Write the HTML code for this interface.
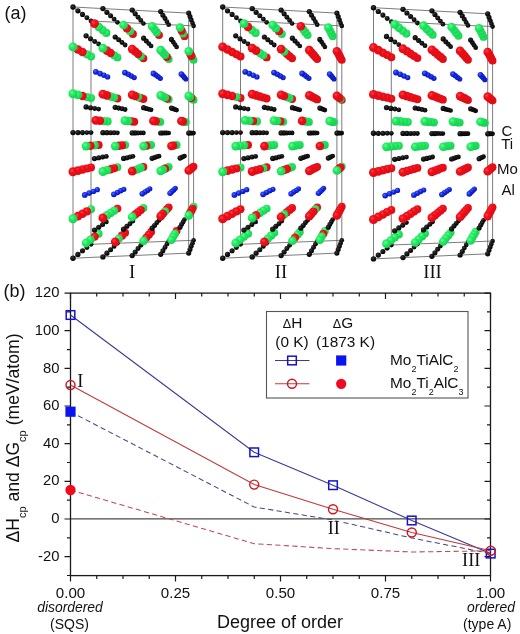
<!DOCTYPE html>
<html><head><meta charset="utf-8"><title>Figure</title>
<style>html,body{margin:0;padding:0;background:#fff}svg{display:block;font-family:"Liberation Sans",sans-serif}</style>
</head><body>
<svg width="520" height="634" viewBox="0 0 520 634">
<defs>
<radialGradient id="gR" cx="0.38" cy="0.36" r="0.7"><stop offset="0" stop-color="#ff4448"/><stop offset="0.35" stop-color="#f2121c"/><stop offset="1" stop-color="#d80812"/></radialGradient>
<radialGradient id="gG" cx="0.38" cy="0.36" r="0.7"><stop offset="0" stop-color="#6cff94"/><stop offset="0.35" stop-color="#26ee64"/><stop offset="1" stop-color="#16cc50"/></radialGradient>
<radialGradient id="gC" cx="0.38" cy="0.36" r="0.7"><stop offset="0" stop-color="#3a3a3a"/><stop offset="0.5" stop-color="#111"/><stop offset="1" stop-color="#000"/></radialGradient>
<radialGradient id="gL" cx="0.38" cy="0.36" r="0.7"><stop offset="0" stop-color="#4a6aff"/><stop offset="0.5" stop-color="#1428e8"/><stop offset="1" stop-color="#0410a0"/></radialGradient>
<filter id="soft" x="0" y="0" width="520" height="290" filterUnits="userSpaceOnUse"><feGaussianBlur stdDeviation="0.55"/></filter>
</defs>
<rect width="520" height="634" fill="#fff"/>
<g id="structs"><g stroke="#5a5a5a" stroke-width="0.8" fill="none"><line x1="73.0" y1="7.0" x2="188.7" y2="13.1"/><line x1="73.0" y1="258.2" x2="188.7" y2="253.1"/><line x1="73.0" y1="7.0" x2="73.0" y2="258.2"/><line x1="188.7" y1="13.1" x2="188.7" y2="253.1"/><line x1="91.0" y1="21.0" x2="193.6" y2="25.9"/><line x1="91.0" y1="244.3" x2="193.6" y2="240.3"/><line x1="91.0" y1="21.0" x2="91.0" y2="244.3"/><line x1="193.6" y1="25.9" x2="193.6" y2="240.3"/><line x1="73.0" y1="7.0" x2="91.0" y2="21.0"/><line x1="188.7" y1="13.1" x2="193.6" y2="25.9"/><line x1="73.0" y1="258.2" x2="91.0" y2="244.3"/><line x1="188.7" y1="253.1" x2="193.6" y2="240.3"/></g><g filter="url(#soft)"><circle cx="193.6" cy="25.9" r="2.30" fill="url(#gC)"/><circle cx="193.6" cy="60.0" r="3.84" fill="url(#gG)"/><circle cx="193.6" cy="99.9" r="3.84" fill="url(#gG)"/><circle cx="193.6" cy="133.1" r="2.30" fill="url(#gC)"/><circle cx="193.6" cy="166.5" r="3.84" fill="url(#gR)"/><circle cx="193.6" cy="206.6" r="3.84" fill="url(#gG)"/><circle cx="193.6" cy="240.3" r="2.30" fill="url(#gC)"/><circle cx="168.7" cy="24.7" r="2.33" fill="url(#gC)"/><circle cx="168.7" cy="59.1" r="3.88" fill="url(#gG)"/><circle cx="168.7" cy="99.4" r="3.88" fill="url(#gG)"/><circle cx="168.7" cy="133.0" r="2.33" fill="url(#gC)"/><circle cx="168.7" cy="166.8" r="3.88" fill="url(#gG)"/><circle cx="168.7" cy="207.3" r="3.88" fill="url(#gR)"/><circle cx="168.7" cy="241.3" r="2.33" fill="url(#gC)"/><circle cx="176.6" cy="47.0" r="2.34" fill="url(#gC)"/><circle cx="176.6" cy="110.1" r="2.34" fill="url(#gC)"/><circle cx="176.6" cy="145.0" r="3.90" fill="url(#gG)"/><circle cx="175.3" cy="188.3" r="2.56" fill="url(#gL)"/><circle cx="176.6" cy="231.0" r="3.90" fill="url(#gR)"/><circle cx="143.4" cy="23.5" r="2.35" fill="url(#gC)"/><circle cx="143.4" cy="58.3" r="3.92" fill="url(#gR)"/><circle cx="143.4" cy="99.0" r="3.92" fill="url(#gR)"/><circle cx="143.4" cy="132.9" r="2.35" fill="url(#gC)"/><circle cx="143.4" cy="167.0" r="3.92" fill="url(#gR)"/><circle cx="143.4" cy="207.9" r="3.92" fill="url(#gG)"/><circle cx="143.4" cy="242.2" r="2.35" fill="url(#gC)"/><circle cx="184.5" cy="36.2" r="3.92" fill="url(#gR)"/><circle cx="185.8" cy="79.0" r="2.57" fill="url(#gL)"/><circle cx="185.8" cy="122.1" r="3.92" fill="url(#gG)"/><circle cx="184.5" cy="156.0" r="2.35" fill="url(#gC)"/><circle cx="184.5" cy="219.6" r="2.35" fill="url(#gC)"/><circle cx="151.1" cy="46.0" r="2.36" fill="url(#gC)"/><circle cx="151.1" cy="109.8" r="2.36" fill="url(#gC)"/><circle cx="151.1" cy="145.0" r="3.94" fill="url(#gG)"/><circle cx="149.8" cy="188.8" r="2.58" fill="url(#gL)"/><circle cx="151.1" cy="231.9" r="3.94" fill="url(#gR)"/><circle cx="192.5" cy="23.0" r="2.37" fill="url(#gC)"/><circle cx="192.5" cy="58.0" r="3.95" fill="url(#gG)"/><circle cx="192.5" cy="98.9" r="3.95" fill="url(#gG)"/><circle cx="192.5" cy="133.1" r="2.37" fill="url(#gC)"/><circle cx="192.5" cy="167.4" r="3.95" fill="url(#gR)"/><circle cx="192.5" cy="208.6" r="3.95" fill="url(#gR)"/><circle cx="192.5" cy="243.2" r="2.37" fill="url(#gC)"/><circle cx="117.4" cy="22.3" r="2.38" fill="url(#gC)"/><circle cx="117.4" cy="57.4" r="3.96" fill="url(#gG)"/><circle cx="117.4" cy="98.5" r="3.96" fill="url(#gR)"/><circle cx="117.4" cy="132.8" r="2.38" fill="url(#gC)"/><circle cx="117.4" cy="167.2" r="3.96" fill="url(#gG)"/><circle cx="117.4" cy="208.6" r="3.96" fill="url(#gR)"/><circle cx="117.4" cy="243.3" r="2.38" fill="url(#gC)"/><circle cx="159.0" cy="35.1" r="3.96" fill="url(#gR)"/><circle cx="160.3" cy="78.3" r="2.60" fill="url(#gL)"/><circle cx="160.3" cy="121.9" r="3.96" fill="url(#gG)"/><circle cx="159.0" cy="156.2" r="2.38" fill="url(#gC)"/><circle cx="159.0" cy="220.3" r="2.38" fill="url(#gC)"/><circle cx="125.1" cy="45.0" r="2.39" fill="url(#gC)"/><circle cx="125.1" cy="109.5" r="2.39" fill="url(#gC)"/><circle cx="125.1" cy="145.0" r="3.98" fill="url(#gG)"/><circle cx="123.8" cy="189.3" r="2.61" fill="url(#gL)"/><circle cx="125.1" cy="232.8" r="3.98" fill="url(#gR)"/><circle cx="166.9" cy="21.7" r="2.39" fill="url(#gC)"/><circle cx="166.9" cy="57.1" r="3.99" fill="url(#gR)"/><circle cx="166.9" cy="98.5" r="3.99" fill="url(#gR)"/><circle cx="166.9" cy="133.0" r="2.39" fill="url(#gC)"/><circle cx="166.9" cy="167.7" r="3.99" fill="url(#gG)"/><circle cx="166.9" cy="209.3" r="3.99" fill="url(#gR)"/><circle cx="166.9" cy="244.2" r="2.39" fill="url(#gC)"/><circle cx="91.0" cy="21.0" r="2.40" fill="url(#gC)"/><circle cx="91.0" cy="56.5" r="4.00" fill="url(#gG)"/><circle cx="91.0" cy="98.0" r="4.00" fill="url(#gG)"/><circle cx="91.0" cy="132.6" r="2.40" fill="url(#gC)"/><circle cx="91.0" cy="167.5" r="4.00" fill="url(#gR)"/><circle cx="91.0" cy="209.2" r="4.00" fill="url(#gG)"/><circle cx="91.0" cy="244.3" r="2.40" fill="url(#gC)"/><circle cx="132.9" cy="34.0" r="4.00" fill="url(#gR)"/><circle cx="134.2" cy="77.6" r="2.63" fill="url(#gL)"/><circle cx="134.2" cy="121.7" r="4.00" fill="url(#gR)"/><circle cx="132.9" cy="156.3" r="2.40" fill="url(#gC)"/><circle cx="132.9" cy="221.1" r="2.40" fill="url(#gC)"/><circle cx="174.9" cy="44.6" r="2.41" fill="url(#gC)"/><circle cx="174.9" cy="109.5" r="2.41" fill="url(#gC)"/><circle cx="174.9" cy="145.3" r="4.01" fill="url(#gG)"/><circle cx="173.6" cy="189.9" r="2.63" fill="url(#gL)"/><circle cx="174.9" cy="233.7" r="4.01" fill="url(#gG)"/><circle cx="98.6" cy="44.0" r="2.41" fill="url(#gC)"/><circle cx="98.6" cy="109.1" r="2.41" fill="url(#gC)"/><circle cx="98.6" cy="145.0" r="4.02" fill="url(#gR)"/><circle cx="97.3" cy="189.7" r="2.64" fill="url(#gL)"/><circle cx="98.6" cy="233.7" r="4.02" fill="url(#gG)"/><circle cx="140.8" cy="20.4" r="2.42" fill="url(#gC)"/><circle cx="140.8" cy="56.2" r="4.03" fill="url(#gG)"/><circle cx="140.8" cy="98.0" r="4.03" fill="url(#gR)"/><circle cx="140.8" cy="132.9" r="2.42" fill="url(#gC)"/><circle cx="140.8" cy="167.9" r="4.03" fill="url(#gG)"/><circle cx="140.8" cy="210.0" r="4.03" fill="url(#gR)"/><circle cx="140.8" cy="245.3" r="2.42" fill="url(#gC)"/><circle cx="183.1" cy="33.5" r="4.03" fill="url(#gG)"/><circle cx="184.4" cy="77.4" r="2.64" fill="url(#gL)"/><circle cx="184.4" cy="121.8" r="4.03" fill="url(#gG)"/><circle cx="183.1" cy="156.7" r="2.42" fill="url(#gC)"/><circle cx="183.1" cy="222.0" r="2.42" fill="url(#gC)"/><circle cx="106.3" cy="32.9" r="4.05" fill="url(#gG)"/><circle cx="107.6" cy="76.9" r="2.65" fill="url(#gL)"/><circle cx="107.6" cy="121.4" r="4.05" fill="url(#gG)"/><circle cx="106.3" cy="156.4" r="2.43" fill="url(#gC)"/><circle cx="106.3" cy="221.9" r="2.43" fill="url(#gC)"/><circle cx="148.8" cy="43.6" r="2.43" fill="url(#gC)"/><circle cx="148.8" cy="109.2" r="2.43" fill="url(#gC)"/><circle cx="148.8" cy="145.3" r="4.05" fill="url(#gG)"/><circle cx="147.5" cy="190.4" r="2.66" fill="url(#gL)"/><circle cx="148.8" cy="234.7" r="4.05" fill="url(#gR)"/><circle cx="191.3" cy="19.9" r="2.43" fill="url(#gC)"/><circle cx="191.3" cy="55.9" r="4.06" fill="url(#gR)"/><circle cx="191.3" cy="98.0" r="4.06" fill="url(#gR)"/><circle cx="191.3" cy="133.1" r="2.43" fill="url(#gC)"/><circle cx="191.3" cy="168.4" r="4.06" fill="url(#gR)"/><circle cx="191.3" cy="210.8" r="4.06" fill="url(#gR)"/><circle cx="191.3" cy="246.3" r="2.43" fill="url(#gC)"/><circle cx="114.1" cy="19.1" r="2.44" fill="url(#gC)"/><circle cx="114.1" cy="55.3" r="4.07" fill="url(#gG)"/><circle cx="114.1" cy="97.5" r="4.07" fill="url(#gG)"/><circle cx="114.1" cy="132.8" r="2.44" fill="url(#gC)"/><circle cx="114.1" cy="168.2" r="4.07" fill="url(#gR)"/><circle cx="114.1" cy="210.7" r="4.07" fill="url(#gG)"/><circle cx="114.1" cy="246.4" r="2.44" fill="url(#gC)"/><circle cx="156.8" cy="32.4" r="4.08" fill="url(#gG)"/><circle cx="158.1" cy="76.7" r="2.67" fill="url(#gL)"/><circle cx="158.1" cy="121.6" r="4.08" fill="url(#gG)"/><circle cx="156.8" cy="156.8" r="2.45" fill="url(#gC)"/><circle cx="156.8" cy="222.8" r="2.45" fill="url(#gC)"/><circle cx="122.0" cy="42.5" r="2.46" fill="url(#gC)"/><circle cx="122.0" cy="108.8" r="2.46" fill="url(#gC)"/><circle cx="122.0" cy="145.4" r="4.10" fill="url(#gR)"/><circle cx="120.7" cy="190.8" r="2.68" fill="url(#gL)"/><circle cx="122.0" cy="235.7" r="4.10" fill="url(#gR)"/><circle cx="165.0" cy="18.5" r="2.46" fill="url(#gC)"/><circle cx="165.0" cy="54.9" r="4.10" fill="url(#gG)"/><circle cx="165.0" cy="97.5" r="4.10" fill="url(#gG)"/><circle cx="165.0" cy="133.0" r="2.46" fill="url(#gC)"/><circle cx="165.0" cy="168.7" r="4.10" fill="url(#gR)"/><circle cx="165.0" cy="211.5" r="4.10" fill="url(#gG)"/><circle cx="165.0" cy="247.4" r="2.46" fill="url(#gC)"/><circle cx="86.9" cy="17.8" r="2.47" fill="url(#gC)"/><circle cx="86.9" cy="54.3" r="4.11" fill="url(#gG)"/><circle cx="86.9" cy="97.0" r="4.11" fill="url(#gG)"/><circle cx="86.9" cy="132.6" r="2.47" fill="url(#gC)"/><circle cx="86.9" cy="168.5" r="4.11" fill="url(#gR)"/><circle cx="86.9" cy="211.4" r="4.11" fill="url(#gR)"/><circle cx="86.9" cy="247.5" r="2.47" fill="url(#gC)"/><circle cx="130.0" cy="31.2" r="4.12" fill="url(#gG)"/><circle cx="131.3" cy="76.0" r="2.70" fill="url(#gL)"/><circle cx="131.3" cy="121.3" r="4.12" fill="url(#gR)"/><circle cx="130.0" cy="157.0" r="2.47" fill="url(#gC)"/><circle cx="130.0" cy="223.7" r="2.47" fill="url(#gC)"/><circle cx="173.2" cy="42.1" r="2.47" fill="url(#gC)"/><circle cx="173.2" cy="108.8" r="2.47" fill="url(#gC)"/><circle cx="173.2" cy="145.7" r="4.12" fill="url(#gR)"/><circle cx="171.9" cy="191.5" r="2.70" fill="url(#gL)"/><circle cx="173.2" cy="236.6" r="4.12" fill="url(#gG)"/><circle cx="94.7" cy="41.4" r="2.48" fill="url(#gC)"/><circle cx="94.7" cy="108.4" r="2.48" fill="url(#gC)"/><circle cx="94.7" cy="145.4" r="4.14" fill="url(#gG)"/><circle cx="93.4" cy="191.4" r="2.71" fill="url(#gL)"/><circle cx="94.7" cy="236.6" r="4.14" fill="url(#gR)"/><circle cx="138.1" cy="17.2" r="2.49" fill="url(#gC)"/><circle cx="138.1" cy="54.0" r="4.14" fill="url(#gR)"/><circle cx="138.1" cy="97.0" r="4.14" fill="url(#gG)"/><circle cx="138.1" cy="132.9" r="2.49" fill="url(#gC)"/><circle cx="138.1" cy="169.0" r="4.14" fill="url(#gG)"/><circle cx="138.1" cy="212.2" r="4.14" fill="url(#gR)"/><circle cx="138.1" cy="248.5" r="2.49" fill="url(#gC)"/><circle cx="181.6" cy="30.7" r="4.15" fill="url(#gR)"/><circle cx="182.9" cy="75.8" r="2.72" fill="url(#gL)"/><circle cx="182.9" cy="121.5" r="4.15" fill="url(#gR)"/><circle cx="181.6" cy="157.4" r="2.49" fill="url(#gC)"/><circle cx="181.6" cy="224.5" r="2.49" fill="url(#gC)"/><circle cx="102.6" cy="30.0" r="4.16" fill="url(#gG)"/><circle cx="103.9" cy="75.3" r="2.73" fill="url(#gL)"/><circle cx="103.9" cy="121.1" r="4.16" fill="url(#gG)"/><circle cx="102.6" cy="157.1" r="2.50" fill="url(#gC)"/><circle cx="102.6" cy="224.5" r="2.50" fill="url(#gC)"/><circle cx="146.3" cy="41.0" r="2.50" fill="url(#gC)"/><circle cx="146.3" cy="108.5" r="2.50" fill="url(#gC)"/><circle cx="146.3" cy="145.7" r="4.17" fill="url(#gR)"/><circle cx="145.0" cy="192.0" r="2.73" fill="url(#gL)"/><circle cx="146.3" cy="237.6" r="4.17" fill="url(#gR)"/><circle cx="190.0" cy="16.6" r="2.50" fill="url(#gC)"/><circle cx="190.0" cy="53.6" r="4.17" fill="url(#gR)"/><circle cx="190.0" cy="97.0" r="4.17" fill="url(#gG)"/><circle cx="190.0" cy="133.1" r="2.50" fill="url(#gC)"/><circle cx="190.0" cy="169.4" r="4.17" fill="url(#gR)"/><circle cx="190.0" cy="213.0" r="4.17" fill="url(#gR)"/><circle cx="190.0" cy="249.6" r="2.50" fill="url(#gC)"/><circle cx="110.6" cy="15.8" r="2.51" fill="url(#gC)"/><circle cx="110.6" cy="53.0" r="4.19" fill="url(#gR)"/><circle cx="110.6" cy="96.5" r="4.19" fill="url(#gG)"/><circle cx="110.6" cy="132.7" r="2.51" fill="url(#gC)"/><circle cx="110.6" cy="169.2" r="4.19" fill="url(#gR)"/><circle cx="110.6" cy="213.0" r="4.19" fill="url(#gG)"/><circle cx="110.6" cy="249.7" r="2.51" fill="url(#gC)"/><circle cx="154.5" cy="29.4" r="4.19" fill="url(#gG)"/><circle cx="155.8" cy="75.1" r="2.75" fill="url(#gL)"/><circle cx="155.8" cy="121.2" r="4.19" fill="url(#gR)"/><circle cx="154.5" cy="157.5" r="2.52" fill="url(#gC)"/><circle cx="154.5" cy="225.4" r="2.52" fill="url(#gC)"/><circle cx="118.7" cy="39.8" r="2.53" fill="url(#gC)"/><circle cx="118.7" cy="108.1" r="2.53" fill="url(#gC)"/><circle cx="118.7" cy="145.7" r="4.21" fill="url(#gR)"/><circle cx="117.4" cy="192.5" r="2.76" fill="url(#gL)"/><circle cx="118.7" cy="238.7" r="4.21" fill="url(#gG)"/><circle cx="162.9" cy="15.2" r="2.53" fill="url(#gC)"/><circle cx="162.9" cy="52.6" r="4.22" fill="url(#gG)"/><circle cx="162.9" cy="96.5" r="4.22" fill="url(#gG)"/><circle cx="162.9" cy="133.0" r="2.53" fill="url(#gC)"/><circle cx="162.9" cy="169.7" r="4.22" fill="url(#gG)"/><circle cx="162.9" cy="213.8" r="4.22" fill="url(#gR)"/><circle cx="162.9" cy="250.8" r="2.53" fill="url(#gC)"/><circle cx="82.5" cy="14.4" r="2.54" fill="url(#gC)"/><circle cx="82.5" cy="52.0" r="4.24" fill="url(#gR)"/><circle cx="82.5" cy="96.0" r="4.24" fill="url(#gR)"/><circle cx="82.5" cy="132.6" r="2.54" fill="url(#gC)"/><circle cx="82.5" cy="169.5" r="4.24" fill="url(#gR)"/><circle cx="82.5" cy="213.7" r="4.24" fill="url(#gR)"/><circle cx="82.5" cy="250.8" r="2.54" fill="url(#gC)"/><circle cx="126.9" cy="28.2" r="4.24" fill="url(#gR)"/><circle cx="128.2" cy="74.3" r="2.78" fill="url(#gL)"/><circle cx="128.2" cy="121.0" r="4.24" fill="url(#gG)"/><circle cx="126.9" cy="157.7" r="2.54" fill="url(#gC)"/><circle cx="126.9" cy="226.3" r="2.54" fill="url(#gC)"/><circle cx="171.4" cy="39.4" r="2.55" fill="url(#gC)"/><circle cx="171.4" cy="108.1" r="2.55" fill="url(#gC)"/><circle cx="171.4" cy="146.1" r="4.25" fill="url(#gR)"/><circle cx="170.1" cy="193.2" r="2.78" fill="url(#gL)"/><circle cx="171.4" cy="239.7" r="4.25" fill="url(#gG)"/><circle cx="90.5" cy="38.7" r="2.56" fill="url(#gC)"/><circle cx="90.5" cy="107.7" r="2.56" fill="url(#gC)"/><circle cx="90.5" cy="145.7" r="4.26" fill="url(#gR)"/><circle cx="89.2" cy="193.1" r="2.79" fill="url(#gL)"/><circle cx="90.5" cy="239.7" r="4.26" fill="url(#gG)"/><circle cx="135.2" cy="13.8" r="2.56" fill="url(#gC)"/><circle cx="135.2" cy="51.6" r="4.27" fill="url(#gR)"/><circle cx="135.2" cy="95.9" r="4.27" fill="url(#gR)"/><circle cx="135.2" cy="132.9" r="2.56" fill="url(#gC)"/><circle cx="135.2" cy="170.0" r="4.27" fill="url(#gG)"/><circle cx="135.2" cy="214.6" r="4.27" fill="url(#gR)"/><circle cx="135.2" cy="252.0" r="2.56" fill="url(#gC)"/><circle cx="180.0" cy="27.6" r="4.27" fill="url(#gG)"/><circle cx="181.3" cy="74.1" r="2.80" fill="url(#gL)"/><circle cx="181.3" cy="121.1" r="4.27" fill="url(#gR)"/><circle cx="180.0" cy="158.1" r="2.56" fill="url(#gC)"/><circle cx="180.0" cy="227.3" r="2.56" fill="url(#gC)"/><circle cx="98.7" cy="26.9" r="4.29" fill="url(#gG)"/><circle cx="100.0" cy="73.6" r="2.81" fill="url(#gL)"/><circle cx="100.0" cy="120.7" r="4.29" fill="url(#gR)"/><circle cx="98.7" cy="157.8" r="2.57" fill="url(#gC)"/><circle cx="98.7" cy="227.2" r="2.57" fill="url(#gC)"/><circle cx="143.6" cy="38.2" r="2.58" fill="url(#gC)"/><circle cx="143.6" cy="107.7" r="2.58" fill="url(#gC)"/><circle cx="143.6" cy="146.1" r="4.29" fill="url(#gG)"/><circle cx="142.3" cy="193.8" r="2.81" fill="url(#gL)"/><circle cx="143.6" cy="240.8" r="4.29" fill="url(#gG)"/><circle cx="188.7" cy="13.1" r="2.58" fill="url(#gC)"/><circle cx="188.7" cy="51.3" r="4.30" fill="url(#gG)"/><circle cx="188.7" cy="95.9" r="4.30" fill="url(#gG)"/><circle cx="188.7" cy="133.1" r="2.58" fill="url(#gC)"/><circle cx="188.7" cy="170.5" r="4.30" fill="url(#gR)"/><circle cx="188.7" cy="215.4" r="4.30" fill="url(#gG)"/><circle cx="188.7" cy="253.1" r="2.58" fill="url(#gC)"/><circle cx="106.9" cy="12.3" r="2.59" fill="url(#gC)"/><circle cx="106.9" cy="50.6" r="4.31" fill="url(#gR)"/><circle cx="106.9" cy="95.4" r="4.31" fill="url(#gR)"/><circle cx="106.9" cy="132.7" r="2.59" fill="url(#gC)"/><circle cx="106.9" cy="170.3" r="4.31" fill="url(#gG)"/><circle cx="106.9" cy="215.4" r="4.31" fill="url(#gG)"/><circle cx="106.9" cy="253.2" r="2.59" fill="url(#gC)"/><circle cx="152.1" cy="26.3" r="4.32" fill="url(#gG)"/><circle cx="153.4" cy="73.4" r="2.83" fill="url(#gL)"/><circle cx="153.4" cy="120.9" r="4.32" fill="url(#gR)"/><circle cx="152.1" cy="158.3" r="2.59" fill="url(#gC)"/><circle cx="152.1" cy="228.2" r="2.59" fill="url(#gC)"/><circle cx="115.2" cy="37.0" r="2.61" fill="url(#gC)"/><circle cx="115.2" cy="107.3" r="2.61" fill="url(#gC)"/><circle cx="115.2" cy="146.1" r="4.34" fill="url(#gG)"/><circle cx="113.9" cy="194.3" r="2.85" fill="url(#gL)"/><circle cx="115.2" cy="241.8" r="4.34" fill="url(#gR)"/><circle cx="160.7" cy="11.6" r="2.61" fill="url(#gC)"/><circle cx="160.7" cy="50.2" r="4.35" fill="url(#gG)"/><circle cx="160.7" cy="95.4" r="4.35" fill="url(#gG)"/><circle cx="160.7" cy="133.0" r="2.61" fill="url(#gC)"/><circle cx="160.7" cy="170.8" r="4.35" fill="url(#gG)"/><circle cx="160.7" cy="216.2" r="4.35" fill="url(#gR)"/><circle cx="160.7" cy="254.3" r="2.61" fill="url(#gC)"/><circle cx="77.9" cy="10.8" r="2.62" fill="url(#gC)"/><circle cx="77.9" cy="49.5" r="4.36" fill="url(#gR)"/><circle cx="77.9" cy="94.9" r="4.36" fill="url(#gG)"/><circle cx="77.9" cy="132.6" r="2.62" fill="url(#gC)"/><circle cx="77.9" cy="170.6" r="4.36" fill="url(#gR)"/><circle cx="77.9" cy="216.2" r="4.36" fill="url(#gR)"/><circle cx="77.9" cy="254.4" r="2.62" fill="url(#gC)"/><circle cx="123.6" cy="25.0" r="4.37" fill="url(#gG)"/><circle cx="124.9" cy="72.6" r="2.86" fill="url(#gL)"/><circle cx="124.9" cy="120.6" r="4.37" fill="url(#gG)"/><circle cx="123.6" cy="158.4" r="2.62" fill="url(#gC)"/><circle cx="123.6" cy="229.2" r="2.62" fill="url(#gC)"/><circle cx="86.1" cy="35.8" r="2.63" fill="url(#gC)"/><circle cx="86.1" cy="106.9" r="2.63" fill="url(#gC)"/><circle cx="86.1" cy="146.1" r="4.39" fill="url(#gG)"/><circle cx="84.8" cy="194.9" r="2.88" fill="url(#gL)"/><circle cx="86.1" cy="243.0" r="4.39" fill="url(#gG)"/><circle cx="132.2" cy="10.1" r="2.64" fill="url(#gC)"/><circle cx="132.2" cy="49.1" r="4.40" fill="url(#gR)"/><circle cx="132.2" cy="94.8" r="4.40" fill="url(#gR)"/><circle cx="132.2" cy="132.9" r="2.64" fill="url(#gC)"/><circle cx="132.2" cy="171.1" r="4.40" fill="url(#gR)"/><circle cx="132.2" cy="217.0" r="4.40" fill="url(#gG)"/><circle cx="132.2" cy="255.6" r="2.64" fill="url(#gC)"/><circle cx="94.5" cy="23.6" r="4.42" fill="url(#gR)"/><circle cx="95.8" cy="71.8" r="2.90" fill="url(#gL)"/><circle cx="95.8" cy="120.4" r="4.42" fill="url(#gR)"/><circle cx="94.5" cy="158.6" r="2.65" fill="url(#gC)"/><circle cx="94.5" cy="230.1" r="2.65" fill="url(#gC)"/><circle cx="102.9" cy="8.6" r="2.67" fill="url(#gC)"/><circle cx="102.9" cy="48.1" r="4.45" fill="url(#gG)"/><circle cx="102.9" cy="94.2" r="4.45" fill="url(#gR)"/><circle cx="102.9" cy="132.7" r="2.67" fill="url(#gC)"/><circle cx="102.9" cy="171.5" r="4.45" fill="url(#gG)"/><circle cx="102.9" cy="217.9" r="4.45" fill="url(#gR)"/><circle cx="102.9" cy="256.9" r="2.67" fill="url(#gC)"/><circle cx="73.0" cy="7.0" r="2.70" fill="url(#gC)"/><circle cx="73.0" cy="46.9" r="4.50" fill="url(#gG)"/><circle cx="73.0" cy="93.7" r="4.50" fill="url(#gG)"/><circle cx="73.0" cy="132.6" r="2.70" fill="url(#gC)"/><circle cx="73.0" cy="171.8" r="4.50" fill="url(#gR)"/><circle cx="73.0" cy="218.8" r="4.50" fill="url(#gG)"/><circle cx="73.0" cy="258.2" r="2.70" fill="url(#gC)"/></g><g stroke="#5a5a5a" stroke-width="0.8" fill="none"><line x1="222.7" y1="7.0" x2="336.9" y2="13.1"/><line x1="222.7" y1="258.2" x2="336.9" y2="253.1"/><line x1="222.7" y1="7.0" x2="222.7" y2="258.2"/><line x1="336.9" y1="13.1" x2="336.9" y2="253.1"/><line x1="240.5" y1="21.0" x2="341.8" y2="25.9"/><line x1="240.5" y1="244.3" x2="341.8" y2="240.3"/><line x1="240.5" y1="21.0" x2="240.5" y2="244.3"/><line x1="341.8" y1="25.9" x2="341.8" y2="240.3"/><line x1="222.7" y1="7.0" x2="240.5" y2="21.0"/><line x1="336.9" y1="13.1" x2="341.8" y2="25.9"/><line x1="222.7" y1="258.2" x2="240.5" y2="244.3"/><line x1="336.9" y1="253.1" x2="341.8" y2="240.3"/></g><g filter="url(#soft)"><circle cx="341.8" cy="25.9" r="2.30" fill="url(#gC)"/><circle cx="341.8" cy="60.0" r="3.84" fill="url(#gR)"/><circle cx="341.8" cy="99.9" r="3.84" fill="url(#gR)"/><circle cx="341.8" cy="133.1" r="2.30" fill="url(#gC)"/><circle cx="341.8" cy="166.5" r="3.84" fill="url(#gG)"/><circle cx="341.8" cy="206.6" r="3.84" fill="url(#gR)"/><circle cx="341.8" cy="240.3" r="2.30" fill="url(#gC)"/><circle cx="317.2" cy="24.7" r="2.33" fill="url(#gC)"/><circle cx="317.2" cy="59.1" r="3.88" fill="url(#gR)"/><circle cx="317.2" cy="99.4" r="3.88" fill="url(#gR)"/><circle cx="317.2" cy="133.0" r="2.33" fill="url(#gC)"/><circle cx="317.2" cy="166.8" r="3.88" fill="url(#gR)"/><circle cx="317.2" cy="207.3" r="3.88" fill="url(#gR)"/><circle cx="317.2" cy="241.3" r="2.33" fill="url(#gC)"/><circle cx="324.9" cy="47.0" r="2.34" fill="url(#gC)"/><circle cx="324.9" cy="110.1" r="2.34" fill="url(#gC)"/><circle cx="324.9" cy="145.0" r="3.90" fill="url(#gG)"/><circle cx="323.6" cy="188.3" r="2.56" fill="url(#gL)"/><circle cx="324.9" cy="231.0" r="3.90" fill="url(#gG)"/><circle cx="292.1" cy="23.5" r="2.35" fill="url(#gC)"/><circle cx="292.1" cy="58.3" r="3.92" fill="url(#gR)"/><circle cx="292.1" cy="99.0" r="3.92" fill="url(#gR)"/><circle cx="292.1" cy="132.9" r="2.35" fill="url(#gC)"/><circle cx="292.1" cy="167.0" r="3.92" fill="url(#gG)"/><circle cx="292.1" cy="207.9" r="3.92" fill="url(#gR)"/><circle cx="292.1" cy="242.2" r="2.35" fill="url(#gC)"/><circle cx="332.7" cy="36.2" r="3.92" fill="url(#gG)"/><circle cx="334.0" cy="79.0" r="2.57" fill="url(#gL)"/><circle cx="334.0" cy="122.1" r="3.92" fill="url(#gG)"/><circle cx="332.7" cy="156.0" r="2.35" fill="url(#gC)"/><circle cx="332.7" cy="219.6" r="2.35" fill="url(#gC)"/><circle cx="299.8" cy="46.0" r="2.36" fill="url(#gC)"/><circle cx="299.8" cy="109.8" r="2.36" fill="url(#gC)"/><circle cx="299.8" cy="145.0" r="3.94" fill="url(#gG)"/><circle cx="298.5" cy="188.8" r="2.58" fill="url(#gL)"/><circle cx="299.8" cy="231.9" r="3.94" fill="url(#gG)"/><circle cx="340.6" cy="23.0" r="2.37" fill="url(#gC)"/><circle cx="340.6" cy="58.0" r="3.95" fill="url(#gR)"/><circle cx="340.6" cy="98.9" r="3.95" fill="url(#gG)"/><circle cx="340.6" cy="133.1" r="2.37" fill="url(#gC)"/><circle cx="340.6" cy="167.4" r="3.95" fill="url(#gR)"/><circle cx="340.6" cy="208.6" r="3.95" fill="url(#gR)"/><circle cx="340.6" cy="243.2" r="2.37" fill="url(#gC)"/><circle cx="266.6" cy="22.3" r="2.38" fill="url(#gC)"/><circle cx="266.6" cy="57.4" r="3.96" fill="url(#gR)"/><circle cx="266.6" cy="98.5" r="3.96" fill="url(#gR)"/><circle cx="266.6" cy="132.8" r="2.38" fill="url(#gC)"/><circle cx="266.6" cy="167.2" r="3.96" fill="url(#gR)"/><circle cx="266.6" cy="208.6" r="3.96" fill="url(#gG)"/><circle cx="266.6" cy="243.3" r="2.38" fill="url(#gC)"/><circle cx="307.6" cy="35.1" r="3.96" fill="url(#gG)"/><circle cx="308.9" cy="78.3" r="2.60" fill="url(#gL)"/><circle cx="308.9" cy="121.9" r="3.96" fill="url(#gG)"/><circle cx="307.6" cy="156.2" r="2.38" fill="url(#gC)"/><circle cx="307.6" cy="220.3" r="2.38" fill="url(#gC)"/><circle cx="274.2" cy="45.0" r="2.39" fill="url(#gC)"/><circle cx="274.2" cy="109.5" r="2.39" fill="url(#gC)"/><circle cx="274.2" cy="145.0" r="3.98" fill="url(#gG)"/><circle cx="272.9" cy="189.3" r="2.61" fill="url(#gL)"/><circle cx="274.2" cy="232.8" r="3.98" fill="url(#gG)"/><circle cx="315.4" cy="21.7" r="2.39" fill="url(#gC)"/><circle cx="315.4" cy="57.1" r="3.99" fill="url(#gR)"/><circle cx="315.4" cy="98.5" r="3.99" fill="url(#gR)"/><circle cx="315.4" cy="133.0" r="2.39" fill="url(#gC)"/><circle cx="315.4" cy="167.7" r="3.99" fill="url(#gR)"/><circle cx="315.4" cy="209.3" r="3.99" fill="url(#gG)"/><circle cx="315.4" cy="244.2" r="2.39" fill="url(#gC)"/><circle cx="240.5" cy="21.0" r="2.40" fill="url(#gC)"/><circle cx="240.5" cy="56.5" r="4.00" fill="url(#gR)"/><circle cx="240.5" cy="98.0" r="4.00" fill="url(#gR)"/><circle cx="240.5" cy="132.6" r="2.40" fill="url(#gC)"/><circle cx="240.5" cy="167.5" r="4.00" fill="url(#gG)"/><circle cx="240.5" cy="209.2" r="4.00" fill="url(#gR)"/><circle cx="240.5" cy="244.3" r="2.40" fill="url(#gC)"/><circle cx="281.8" cy="34.0" r="4.00" fill="url(#gG)"/><circle cx="283.1" cy="77.6" r="2.63" fill="url(#gL)"/><circle cx="283.1" cy="121.7" r="4.00" fill="url(#gG)"/><circle cx="281.8" cy="156.3" r="2.40" fill="url(#gC)"/><circle cx="281.8" cy="221.1" r="2.40" fill="url(#gC)"/><circle cx="323.3" cy="44.6" r="2.41" fill="url(#gC)"/><circle cx="323.3" cy="109.5" r="2.41" fill="url(#gC)"/><circle cx="323.3" cy="145.3" r="4.01" fill="url(#gG)"/><circle cx="322.0" cy="189.9" r="2.63" fill="url(#gL)"/><circle cx="323.3" cy="233.7" r="4.01" fill="url(#gR)"/><circle cx="248.0" cy="44.0" r="2.41" fill="url(#gC)"/><circle cx="248.0" cy="109.1" r="2.41" fill="url(#gC)"/><circle cx="248.0" cy="145.0" r="4.02" fill="url(#gR)"/><circle cx="246.7" cy="189.7" r="2.64" fill="url(#gL)"/><circle cx="248.0" cy="233.7" r="4.02" fill="url(#gG)"/><circle cx="289.6" cy="20.4" r="2.42" fill="url(#gC)"/><circle cx="289.6" cy="56.2" r="4.03" fill="url(#gR)"/><circle cx="289.6" cy="98.0" r="4.03" fill="url(#gG)"/><circle cx="289.6" cy="132.9" r="2.42" fill="url(#gC)"/><circle cx="289.6" cy="167.9" r="4.03" fill="url(#gG)"/><circle cx="289.6" cy="210.0" r="4.03" fill="url(#gR)"/><circle cx="289.6" cy="245.3" r="2.42" fill="url(#gC)"/><circle cx="331.3" cy="33.5" r="4.03" fill="url(#gG)"/><circle cx="332.6" cy="77.4" r="2.64" fill="url(#gL)"/><circle cx="332.6" cy="121.8" r="4.03" fill="url(#gG)"/><circle cx="331.3" cy="156.7" r="2.42" fill="url(#gC)"/><circle cx="331.3" cy="222.0" r="2.42" fill="url(#gC)"/><circle cx="255.6" cy="32.9" r="4.05" fill="url(#gG)"/><circle cx="256.9" cy="76.9" r="2.65" fill="url(#gL)"/><circle cx="256.9" cy="121.4" r="4.05" fill="url(#gG)"/><circle cx="255.6" cy="156.4" r="2.43" fill="url(#gC)"/><circle cx="255.6" cy="221.9" r="2.43" fill="url(#gC)"/><circle cx="297.5" cy="43.6" r="2.43" fill="url(#gC)"/><circle cx="297.5" cy="109.2" r="2.43" fill="url(#gC)"/><circle cx="297.5" cy="145.3" r="4.05" fill="url(#gG)"/><circle cx="296.2" cy="190.4" r="2.66" fill="url(#gL)"/><circle cx="297.5" cy="234.7" r="4.05" fill="url(#gG)"/><circle cx="339.5" cy="19.9" r="2.43" fill="url(#gC)"/><circle cx="339.5" cy="55.9" r="4.06" fill="url(#gR)"/><circle cx="339.5" cy="98.0" r="4.06" fill="url(#gR)"/><circle cx="339.5" cy="133.1" r="2.43" fill="url(#gC)"/><circle cx="339.5" cy="168.4" r="4.06" fill="url(#gR)"/><circle cx="339.5" cy="210.8" r="4.06" fill="url(#gR)"/><circle cx="339.5" cy="246.3" r="2.43" fill="url(#gC)"/><circle cx="263.3" cy="19.1" r="2.44" fill="url(#gC)"/><circle cx="263.3" cy="55.3" r="4.07" fill="url(#gG)"/><circle cx="263.3" cy="97.5" r="4.07" fill="url(#gR)"/><circle cx="263.3" cy="132.8" r="2.44" fill="url(#gC)"/><circle cx="263.3" cy="168.2" r="4.07" fill="url(#gG)"/><circle cx="263.3" cy="210.7" r="4.07" fill="url(#gG)"/><circle cx="263.3" cy="246.4" r="2.44" fill="url(#gC)"/><circle cx="305.4" cy="32.4" r="4.08" fill="url(#gG)"/><circle cx="306.7" cy="76.7" r="2.67" fill="url(#gL)"/><circle cx="306.7" cy="121.6" r="4.08" fill="url(#gG)"/><circle cx="305.4" cy="156.8" r="2.45" fill="url(#gC)"/><circle cx="305.4" cy="222.8" r="2.45" fill="url(#gC)"/><circle cx="271.1" cy="42.5" r="2.46" fill="url(#gC)"/><circle cx="271.1" cy="108.8" r="2.46" fill="url(#gC)"/><circle cx="271.1" cy="145.4" r="4.10" fill="url(#gG)"/><circle cx="269.8" cy="190.8" r="2.68" fill="url(#gL)"/><circle cx="271.1" cy="235.7" r="4.10" fill="url(#gG)"/><circle cx="313.5" cy="18.5" r="2.46" fill="url(#gC)"/><circle cx="313.5" cy="54.9" r="4.10" fill="url(#gR)"/><circle cx="313.5" cy="97.5" r="4.10" fill="url(#gR)"/><circle cx="313.5" cy="133.0" r="2.46" fill="url(#gC)"/><circle cx="313.5" cy="168.7" r="4.10" fill="url(#gR)"/><circle cx="313.5" cy="211.5" r="4.10" fill="url(#gR)"/><circle cx="313.5" cy="247.4" r="2.46" fill="url(#gC)"/><circle cx="236.4" cy="17.8" r="2.47" fill="url(#gC)"/><circle cx="236.4" cy="54.3" r="4.11" fill="url(#gR)"/><circle cx="236.4" cy="97.0" r="4.11" fill="url(#gG)"/><circle cx="236.4" cy="132.6" r="2.47" fill="url(#gC)"/><circle cx="236.4" cy="168.5" r="4.11" fill="url(#gR)"/><circle cx="236.4" cy="211.4" r="4.11" fill="url(#gR)"/><circle cx="236.4" cy="247.5" r="2.47" fill="url(#gC)"/><circle cx="279.0" cy="31.2" r="4.12" fill="url(#gR)"/><circle cx="280.3" cy="76.0" r="2.70" fill="url(#gL)"/><circle cx="280.3" cy="121.3" r="4.12" fill="url(#gR)"/><circle cx="279.0" cy="157.0" r="2.47" fill="url(#gC)"/><circle cx="279.0" cy="223.7" r="2.47" fill="url(#gC)"/><circle cx="321.6" cy="42.1" r="2.47" fill="url(#gC)"/><circle cx="321.6" cy="108.8" r="2.47" fill="url(#gC)"/><circle cx="321.6" cy="145.7" r="4.12" fill="url(#gG)"/><circle cx="320.3" cy="191.5" r="2.70" fill="url(#gL)"/><circle cx="321.6" cy="236.6" r="4.12" fill="url(#gG)"/><circle cx="244.1" cy="41.4" r="2.48" fill="url(#gC)"/><circle cx="244.1" cy="108.4" r="2.48" fill="url(#gC)"/><circle cx="244.1" cy="145.4" r="4.14" fill="url(#gG)"/><circle cx="242.8" cy="191.4" r="2.71" fill="url(#gL)"/><circle cx="244.1" cy="236.6" r="4.14" fill="url(#gG)"/><circle cx="286.9" cy="17.2" r="2.49" fill="url(#gC)"/><circle cx="286.9" cy="54.0" r="4.14" fill="url(#gR)"/><circle cx="286.9" cy="97.0" r="4.14" fill="url(#gG)"/><circle cx="286.9" cy="132.9" r="2.49" fill="url(#gC)"/><circle cx="286.9" cy="169.0" r="4.14" fill="url(#gR)"/><circle cx="286.9" cy="212.2" r="4.14" fill="url(#gR)"/><circle cx="286.9" cy="248.5" r="2.49" fill="url(#gC)"/><circle cx="329.9" cy="30.7" r="4.15" fill="url(#gG)"/><circle cx="331.2" cy="75.8" r="2.72" fill="url(#gL)"/><circle cx="331.2" cy="121.5" r="4.15" fill="url(#gG)"/><circle cx="329.9" cy="157.4" r="2.49" fill="url(#gC)"/><circle cx="329.9" cy="224.5" r="2.49" fill="url(#gC)"/><circle cx="251.9" cy="30.0" r="4.16" fill="url(#gG)"/><circle cx="253.2" cy="75.3" r="2.73" fill="url(#gL)"/><circle cx="253.2" cy="121.1" r="4.16" fill="url(#gR)"/><circle cx="251.9" cy="157.1" r="2.50" fill="url(#gC)"/><circle cx="251.9" cy="224.5" r="2.50" fill="url(#gC)"/><circle cx="295.0" cy="41.0" r="2.50" fill="url(#gC)"/><circle cx="295.0" cy="108.5" r="2.50" fill="url(#gC)"/><circle cx="295.0" cy="145.7" r="4.17" fill="url(#gG)"/><circle cx="293.7" cy="192.0" r="2.73" fill="url(#gL)"/><circle cx="295.0" cy="237.6" r="4.17" fill="url(#gR)"/><circle cx="338.2" cy="16.6" r="2.50" fill="url(#gC)"/><circle cx="338.2" cy="53.6" r="4.17" fill="url(#gR)"/><circle cx="338.2" cy="97.0" r="4.17" fill="url(#gR)"/><circle cx="338.2" cy="133.1" r="2.50" fill="url(#gC)"/><circle cx="338.2" cy="169.4" r="4.17" fill="url(#gR)"/><circle cx="338.2" cy="213.0" r="4.17" fill="url(#gR)"/><circle cx="338.2" cy="249.6" r="2.50" fill="url(#gC)"/><circle cx="259.8" cy="15.8" r="2.51" fill="url(#gC)"/><circle cx="259.8" cy="53.0" r="4.19" fill="url(#gG)"/><circle cx="259.8" cy="96.5" r="4.19" fill="url(#gR)"/><circle cx="259.8" cy="132.7" r="2.51" fill="url(#gC)"/><circle cx="259.8" cy="169.2" r="4.19" fill="url(#gR)"/><circle cx="259.8" cy="213.0" r="4.19" fill="url(#gG)"/><circle cx="259.8" cy="249.7" r="2.51" fill="url(#gC)"/><circle cx="303.2" cy="29.4" r="4.19" fill="url(#gG)"/><circle cx="304.5" cy="75.1" r="2.75" fill="url(#gL)"/><circle cx="304.5" cy="121.2" r="4.19" fill="url(#gG)"/><circle cx="303.2" cy="157.5" r="2.52" fill="url(#gC)"/><circle cx="303.2" cy="225.4" r="2.52" fill="url(#gC)"/><circle cx="267.8" cy="39.8" r="2.53" fill="url(#gC)"/><circle cx="267.8" cy="108.1" r="2.53" fill="url(#gC)"/><circle cx="267.8" cy="145.7" r="4.21" fill="url(#gG)"/><circle cx="266.5" cy="192.5" r="2.76" fill="url(#gL)"/><circle cx="267.8" cy="238.7" r="4.21" fill="url(#gG)"/><circle cx="311.5" cy="15.2" r="2.53" fill="url(#gC)"/><circle cx="311.5" cy="52.6" r="4.22" fill="url(#gR)"/><circle cx="311.5" cy="96.5" r="4.22" fill="url(#gR)"/><circle cx="311.5" cy="133.0" r="2.53" fill="url(#gC)"/><circle cx="311.5" cy="169.7" r="4.22" fill="url(#gR)"/><circle cx="311.5" cy="213.8" r="4.22" fill="url(#gR)"/><circle cx="311.5" cy="250.8" r="2.53" fill="url(#gC)"/><circle cx="232.1" cy="14.4" r="2.54" fill="url(#gC)"/><circle cx="232.1" cy="52.0" r="4.24" fill="url(#gR)"/><circle cx="232.1" cy="96.0" r="4.24" fill="url(#gR)"/><circle cx="232.1" cy="132.6" r="2.54" fill="url(#gC)"/><circle cx="232.1" cy="169.5" r="4.24" fill="url(#gR)"/><circle cx="232.1" cy="213.7" r="4.24" fill="url(#gR)"/><circle cx="232.1" cy="250.8" r="2.54" fill="url(#gC)"/><circle cx="275.9" cy="28.2" r="4.24" fill="url(#gG)"/><circle cx="277.2" cy="74.3" r="2.78" fill="url(#gL)"/><circle cx="277.2" cy="121.0" r="4.24" fill="url(#gG)"/><circle cx="275.9" cy="157.7" r="2.54" fill="url(#gC)"/><circle cx="275.9" cy="226.3" r="2.54" fill="url(#gC)"/><circle cx="319.8" cy="39.4" r="2.55" fill="url(#gC)"/><circle cx="319.8" cy="108.1" r="2.55" fill="url(#gC)"/><circle cx="319.8" cy="146.1" r="4.25" fill="url(#gR)"/><circle cx="318.5" cy="193.2" r="2.78" fill="url(#gL)"/><circle cx="319.8" cy="239.7" r="4.25" fill="url(#gG)"/><circle cx="240.0" cy="38.7" r="2.56" fill="url(#gC)"/><circle cx="240.0" cy="107.7" r="2.56" fill="url(#gC)"/><circle cx="240.0" cy="145.7" r="4.26" fill="url(#gG)"/><circle cx="238.7" cy="193.1" r="2.79" fill="url(#gL)"/><circle cx="240.0" cy="239.7" r="4.26" fill="url(#gG)"/><circle cx="284.1" cy="13.8" r="2.56" fill="url(#gC)"/><circle cx="284.1" cy="51.6" r="4.27" fill="url(#gG)"/><circle cx="284.1" cy="95.9" r="4.27" fill="url(#gR)"/><circle cx="284.1" cy="132.9" r="2.56" fill="url(#gC)"/><circle cx="284.1" cy="170.0" r="4.27" fill="url(#gR)"/><circle cx="284.1" cy="214.6" r="4.27" fill="url(#gG)"/><circle cx="284.1" cy="252.0" r="2.56" fill="url(#gC)"/><circle cx="328.3" cy="27.6" r="4.27" fill="url(#gG)"/><circle cx="329.6" cy="74.1" r="2.80" fill="url(#gL)"/><circle cx="329.6" cy="121.1" r="4.27" fill="url(#gG)"/><circle cx="328.3" cy="158.1" r="2.56" fill="url(#gC)"/><circle cx="328.3" cy="227.3" r="2.56" fill="url(#gC)"/><circle cx="248.0" cy="26.9" r="4.29" fill="url(#gR)"/><circle cx="249.3" cy="73.6" r="2.81" fill="url(#gL)"/><circle cx="249.3" cy="120.7" r="4.29" fill="url(#gG)"/><circle cx="248.0" cy="157.8" r="2.57" fill="url(#gC)"/><circle cx="248.0" cy="227.2" r="2.57" fill="url(#gC)"/><circle cx="292.4" cy="38.2" r="2.58" fill="url(#gC)"/><circle cx="292.4" cy="107.7" r="2.58" fill="url(#gC)"/><circle cx="292.4" cy="146.1" r="4.29" fill="url(#gG)"/><circle cx="291.1" cy="193.8" r="2.81" fill="url(#gL)"/><circle cx="292.4" cy="240.8" r="4.29" fill="url(#gG)"/><circle cx="336.9" cy="13.1" r="2.58" fill="url(#gC)"/><circle cx="336.9" cy="51.3" r="4.30" fill="url(#gR)"/><circle cx="336.9" cy="95.9" r="4.30" fill="url(#gR)"/><circle cx="336.9" cy="133.1" r="2.58" fill="url(#gC)"/><circle cx="336.9" cy="170.5" r="4.30" fill="url(#gG)"/><circle cx="336.9" cy="215.4" r="4.30" fill="url(#gR)"/><circle cx="336.9" cy="253.1" r="2.58" fill="url(#gC)"/><circle cx="256.1" cy="12.3" r="2.59" fill="url(#gC)"/><circle cx="256.1" cy="50.6" r="4.31" fill="url(#gR)"/><circle cx="256.1" cy="95.4" r="4.31" fill="url(#gR)"/><circle cx="256.1" cy="132.7" r="2.59" fill="url(#gC)"/><circle cx="256.1" cy="170.3" r="4.31" fill="url(#gR)"/><circle cx="256.1" cy="215.4" r="4.31" fill="url(#gR)"/><circle cx="256.1" cy="253.2" r="2.59" fill="url(#gC)"/><circle cx="300.8" cy="26.3" r="4.32" fill="url(#gR)"/><circle cx="302.1" cy="73.4" r="2.83" fill="url(#gL)"/><circle cx="302.1" cy="120.9" r="4.32" fill="url(#gR)"/><circle cx="300.8" cy="158.3" r="2.59" fill="url(#gC)"/><circle cx="300.8" cy="228.2" r="2.59" fill="url(#gC)"/><circle cx="264.4" cy="37.0" r="2.61" fill="url(#gC)"/><circle cx="264.4" cy="107.3" r="2.61" fill="url(#gC)"/><circle cx="264.4" cy="146.1" r="4.34" fill="url(#gR)"/><circle cx="263.1" cy="194.3" r="2.85" fill="url(#gL)"/><circle cx="264.4" cy="241.8" r="4.34" fill="url(#gR)"/><circle cx="309.3" cy="11.6" r="2.61" fill="url(#gC)"/><circle cx="309.3" cy="50.2" r="4.35" fill="url(#gR)"/><circle cx="309.3" cy="95.4" r="4.35" fill="url(#gR)"/><circle cx="309.3" cy="133.0" r="2.61" fill="url(#gC)"/><circle cx="309.3" cy="170.8" r="4.35" fill="url(#gR)"/><circle cx="309.3" cy="216.2" r="4.35" fill="url(#gR)"/><circle cx="309.3" cy="254.3" r="2.61" fill="url(#gC)"/><circle cx="227.5" cy="10.8" r="2.62" fill="url(#gC)"/><circle cx="227.5" cy="49.5" r="4.36" fill="url(#gR)"/><circle cx="227.5" cy="94.9" r="4.36" fill="url(#gR)"/><circle cx="227.5" cy="132.6" r="2.62" fill="url(#gC)"/><circle cx="227.5" cy="170.6" r="4.36" fill="url(#gR)"/><circle cx="227.5" cy="216.2" r="4.36" fill="url(#gR)"/><circle cx="227.5" cy="254.4" r="2.62" fill="url(#gC)"/><circle cx="272.7" cy="25.0" r="4.37" fill="url(#gG)"/><circle cx="274.0" cy="72.6" r="2.86" fill="url(#gL)"/><circle cx="274.0" cy="120.6" r="4.37" fill="url(#gG)"/><circle cx="272.7" cy="158.4" r="2.62" fill="url(#gC)"/><circle cx="272.7" cy="229.2" r="2.62" fill="url(#gC)"/><circle cx="235.7" cy="35.8" r="2.63" fill="url(#gC)"/><circle cx="235.7" cy="106.9" r="2.63" fill="url(#gC)"/><circle cx="235.7" cy="146.1" r="4.39" fill="url(#gG)"/><circle cx="234.4" cy="194.9" r="2.88" fill="url(#gL)"/><circle cx="235.7" cy="243.0" r="4.39" fill="url(#gG)"/><circle cx="281.1" cy="10.1" r="2.64" fill="url(#gC)"/><circle cx="281.1" cy="49.1" r="4.40" fill="url(#gR)"/><circle cx="281.1" cy="94.8" r="4.40" fill="url(#gR)"/><circle cx="281.1" cy="132.9" r="2.64" fill="url(#gC)"/><circle cx="281.1" cy="171.1" r="4.40" fill="url(#gG)"/><circle cx="281.1" cy="217.0" r="4.40" fill="url(#gR)"/><circle cx="281.1" cy="255.6" r="2.64" fill="url(#gC)"/><circle cx="243.9" cy="23.6" r="4.42" fill="url(#gG)"/><circle cx="245.2" cy="71.8" r="2.90" fill="url(#gL)"/><circle cx="245.2" cy="120.4" r="4.42" fill="url(#gG)"/><circle cx="243.9" cy="158.6" r="2.65" fill="url(#gC)"/><circle cx="243.9" cy="230.1" r="2.65" fill="url(#gC)"/><circle cx="252.2" cy="8.6" r="2.67" fill="url(#gC)"/><circle cx="252.2" cy="48.1" r="4.45" fill="url(#gR)"/><circle cx="252.2" cy="94.2" r="4.45" fill="url(#gR)"/><circle cx="252.2" cy="132.7" r="2.67" fill="url(#gC)"/><circle cx="252.2" cy="171.5" r="4.45" fill="url(#gR)"/><circle cx="252.2" cy="217.9" r="4.45" fill="url(#gG)"/><circle cx="252.2" cy="256.9" r="2.67" fill="url(#gC)"/><circle cx="222.7" cy="7.0" r="2.70" fill="url(#gC)"/><circle cx="222.7" cy="46.9" r="4.50" fill="url(#gR)"/><circle cx="222.7" cy="93.7" r="4.50" fill="url(#gR)"/><circle cx="222.7" cy="132.6" r="2.70" fill="url(#gC)"/><circle cx="222.7" cy="171.8" r="4.50" fill="url(#gG)"/><circle cx="222.7" cy="218.8" r="4.50" fill="url(#gR)"/><circle cx="222.7" cy="258.2" r="2.70" fill="url(#gC)"/></g><g stroke="#5a5a5a" stroke-width="0.8" fill="none"><line x1="373.5" y1="7.7" x2="487.7" y2="13.8"/><line x1="373.5" y1="258.9" x2="487.7" y2="253.8"/><line x1="373.5" y1="7.7" x2="373.5" y2="258.9"/><line x1="487.7" y1="13.8" x2="487.7" y2="253.8"/><line x1="391.3" y1="21.7" x2="492.6" y2="26.6"/><line x1="391.3" y1="245.0" x2="492.6" y2="241.0"/><line x1="391.3" y1="21.7" x2="391.3" y2="245.0"/><line x1="492.6" y1="26.6" x2="492.6" y2="241.0"/><line x1="373.5" y1="7.7" x2="391.3" y2="21.7"/><line x1="487.7" y1="13.8" x2="492.6" y2="26.6"/><line x1="373.5" y1="258.9" x2="391.3" y2="245.0"/><line x1="487.7" y1="253.8" x2="492.6" y2="241.0"/></g><g filter="url(#soft)"><circle cx="492.6" cy="26.6" r="2.30" fill="url(#gC)"/><circle cx="492.6" cy="60.7" r="3.84" fill="url(#gR)"/><circle cx="492.6" cy="100.6" r="3.84" fill="url(#gR)"/><circle cx="492.6" cy="133.8" r="2.30" fill="url(#gC)"/><circle cx="492.6" cy="167.2" r="3.84" fill="url(#gR)"/><circle cx="492.6" cy="207.3" r="3.84" fill="url(#gR)"/><circle cx="492.6" cy="241.0" r="2.30" fill="url(#gC)"/><circle cx="468.0" cy="25.4" r="2.33" fill="url(#gC)"/><circle cx="468.0" cy="59.8" r="3.88" fill="url(#gR)"/><circle cx="468.0" cy="100.1" r="3.88" fill="url(#gR)"/><circle cx="468.0" cy="133.7" r="2.33" fill="url(#gC)"/><circle cx="468.0" cy="167.5" r="3.88" fill="url(#gR)"/><circle cx="468.0" cy="208.0" r="3.88" fill="url(#gR)"/><circle cx="468.0" cy="242.0" r="2.33" fill="url(#gC)"/><circle cx="475.7" cy="47.7" r="2.34" fill="url(#gC)"/><circle cx="475.7" cy="110.8" r="2.34" fill="url(#gC)"/><circle cx="475.7" cy="145.7" r="3.90" fill="url(#gG)"/><circle cx="474.4" cy="189.0" r="2.56" fill="url(#gL)"/><circle cx="475.7" cy="231.7" r="3.90" fill="url(#gG)"/><circle cx="442.9" cy="24.2" r="2.35" fill="url(#gC)"/><circle cx="442.9" cy="59.0" r="3.92" fill="url(#gR)"/><circle cx="442.9" cy="99.7" r="3.92" fill="url(#gR)"/><circle cx="442.9" cy="133.6" r="2.35" fill="url(#gC)"/><circle cx="442.9" cy="167.7" r="3.92" fill="url(#gR)"/><circle cx="442.9" cy="208.6" r="3.92" fill="url(#gR)"/><circle cx="442.9" cy="242.9" r="2.35" fill="url(#gC)"/><circle cx="483.5" cy="36.9" r="3.92" fill="url(#gG)"/><circle cx="484.8" cy="79.7" r="2.57" fill="url(#gL)"/><circle cx="484.8" cy="122.8" r="3.92" fill="url(#gG)"/><circle cx="483.5" cy="156.7" r="2.35" fill="url(#gC)"/><circle cx="483.5" cy="220.3" r="2.35" fill="url(#gC)"/><circle cx="450.6" cy="46.7" r="2.36" fill="url(#gC)"/><circle cx="450.6" cy="110.5" r="2.36" fill="url(#gC)"/><circle cx="450.6" cy="145.7" r="3.94" fill="url(#gG)"/><circle cx="449.3" cy="189.5" r="2.58" fill="url(#gL)"/><circle cx="450.6" cy="232.6" r="3.94" fill="url(#gG)"/><circle cx="491.4" cy="23.7" r="2.37" fill="url(#gC)"/><circle cx="491.4" cy="58.7" r="3.95" fill="url(#gR)"/><circle cx="491.4" cy="99.6" r="3.95" fill="url(#gR)"/><circle cx="491.4" cy="133.8" r="2.37" fill="url(#gC)"/><circle cx="491.4" cy="168.1" r="3.95" fill="url(#gR)"/><circle cx="491.4" cy="209.3" r="3.95" fill="url(#gR)"/><circle cx="491.4" cy="243.9" r="2.37" fill="url(#gC)"/><circle cx="417.4" cy="23.0" r="2.38" fill="url(#gC)"/><circle cx="417.4" cy="58.1" r="3.96" fill="url(#gR)"/><circle cx="417.4" cy="99.2" r="3.96" fill="url(#gR)"/><circle cx="417.4" cy="133.5" r="2.38" fill="url(#gC)"/><circle cx="417.4" cy="167.9" r="3.96" fill="url(#gR)"/><circle cx="417.4" cy="209.3" r="3.96" fill="url(#gR)"/><circle cx="417.4" cy="244.0" r="2.38" fill="url(#gC)"/><circle cx="458.4" cy="35.8" r="3.96" fill="url(#gG)"/><circle cx="459.7" cy="79.0" r="2.60" fill="url(#gL)"/><circle cx="459.7" cy="122.6" r="3.96" fill="url(#gG)"/><circle cx="458.4" cy="156.9" r="2.38" fill="url(#gC)"/><circle cx="458.4" cy="221.0" r="2.38" fill="url(#gC)"/><circle cx="425.0" cy="45.7" r="2.39" fill="url(#gC)"/><circle cx="425.0" cy="110.2" r="2.39" fill="url(#gC)"/><circle cx="425.0" cy="145.7" r="3.98" fill="url(#gG)"/><circle cx="423.7" cy="190.0" r="2.61" fill="url(#gL)"/><circle cx="425.0" cy="233.5" r="3.98" fill="url(#gG)"/><circle cx="466.2" cy="22.4" r="2.39" fill="url(#gC)"/><circle cx="466.2" cy="57.8" r="3.99" fill="url(#gR)"/><circle cx="466.2" cy="99.2" r="3.99" fill="url(#gR)"/><circle cx="466.2" cy="133.7" r="2.39" fill="url(#gC)"/><circle cx="466.2" cy="168.4" r="3.99" fill="url(#gR)"/><circle cx="466.2" cy="210.0" r="3.99" fill="url(#gR)"/><circle cx="466.2" cy="244.9" r="2.39" fill="url(#gC)"/><circle cx="391.3" cy="21.7" r="2.40" fill="url(#gC)"/><circle cx="391.3" cy="57.2" r="4.00" fill="url(#gR)"/><circle cx="391.3" cy="98.7" r="4.00" fill="url(#gR)"/><circle cx="391.3" cy="133.3" r="2.40" fill="url(#gC)"/><circle cx="391.3" cy="168.2" r="4.00" fill="url(#gR)"/><circle cx="391.3" cy="209.9" r="4.00" fill="url(#gR)"/><circle cx="391.3" cy="245.0" r="2.40" fill="url(#gC)"/><circle cx="432.6" cy="34.7" r="4.00" fill="url(#gG)"/><circle cx="433.9" cy="78.3" r="2.63" fill="url(#gL)"/><circle cx="433.9" cy="122.4" r="4.00" fill="url(#gG)"/><circle cx="432.6" cy="157.0" r="2.40" fill="url(#gC)"/><circle cx="432.6" cy="221.8" r="2.40" fill="url(#gC)"/><circle cx="474.1" cy="45.3" r="2.41" fill="url(#gC)"/><circle cx="474.1" cy="110.2" r="2.41" fill="url(#gC)"/><circle cx="474.1" cy="146.0" r="4.01" fill="url(#gG)"/><circle cx="472.8" cy="190.6" r="2.63" fill="url(#gL)"/><circle cx="474.1" cy="234.4" r="4.01" fill="url(#gG)"/><circle cx="398.8" cy="44.7" r="2.41" fill="url(#gC)"/><circle cx="398.8" cy="109.8" r="2.41" fill="url(#gC)"/><circle cx="398.8" cy="145.7" r="4.02" fill="url(#gG)"/><circle cx="397.5" cy="190.4" r="2.64" fill="url(#gL)"/><circle cx="398.8" cy="234.4" r="4.02" fill="url(#gG)"/><circle cx="440.4" cy="21.1" r="2.42" fill="url(#gC)"/><circle cx="440.4" cy="56.9" r="4.03" fill="url(#gR)"/><circle cx="440.4" cy="98.7" r="4.03" fill="url(#gR)"/><circle cx="440.4" cy="133.6" r="2.42" fill="url(#gC)"/><circle cx="440.4" cy="168.6" r="4.03" fill="url(#gR)"/><circle cx="440.4" cy="210.7" r="4.03" fill="url(#gR)"/><circle cx="440.4" cy="246.0" r="2.42" fill="url(#gC)"/><circle cx="482.1" cy="34.2" r="4.03" fill="url(#gG)"/><circle cx="483.4" cy="78.1" r="2.64" fill="url(#gL)"/><circle cx="483.4" cy="122.5" r="4.03" fill="url(#gG)"/><circle cx="482.1" cy="157.4" r="2.42" fill="url(#gC)"/><circle cx="482.1" cy="222.7" r="2.42" fill="url(#gC)"/><circle cx="406.4" cy="33.6" r="4.05" fill="url(#gG)"/><circle cx="407.7" cy="77.6" r="2.65" fill="url(#gL)"/><circle cx="407.7" cy="122.1" r="4.05" fill="url(#gG)"/><circle cx="406.4" cy="157.1" r="2.43" fill="url(#gC)"/><circle cx="406.4" cy="222.6" r="2.43" fill="url(#gC)"/><circle cx="448.3" cy="44.3" r="2.43" fill="url(#gC)"/><circle cx="448.3" cy="109.9" r="2.43" fill="url(#gC)"/><circle cx="448.3" cy="146.0" r="4.05" fill="url(#gG)"/><circle cx="447.0" cy="191.1" r="2.66" fill="url(#gL)"/><circle cx="448.3" cy="235.4" r="4.05" fill="url(#gG)"/><circle cx="490.3" cy="20.6" r="2.43" fill="url(#gC)"/><circle cx="490.3" cy="56.6" r="4.06" fill="url(#gR)"/><circle cx="490.3" cy="98.7" r="4.06" fill="url(#gR)"/><circle cx="490.3" cy="133.8" r="2.43" fill="url(#gC)"/><circle cx="490.3" cy="169.1" r="4.06" fill="url(#gR)"/><circle cx="490.3" cy="211.5" r="4.06" fill="url(#gR)"/><circle cx="490.3" cy="247.0" r="2.43" fill="url(#gC)"/><circle cx="414.1" cy="19.8" r="2.44" fill="url(#gC)"/><circle cx="414.1" cy="56.0" r="4.07" fill="url(#gR)"/><circle cx="414.1" cy="98.2" r="4.07" fill="url(#gR)"/><circle cx="414.1" cy="133.5" r="2.44" fill="url(#gC)"/><circle cx="414.1" cy="168.9" r="4.07" fill="url(#gR)"/><circle cx="414.1" cy="211.4" r="4.07" fill="url(#gR)"/><circle cx="414.1" cy="247.1" r="2.44" fill="url(#gC)"/><circle cx="456.2" cy="33.1" r="4.08" fill="url(#gG)"/><circle cx="457.5" cy="77.4" r="2.67" fill="url(#gL)"/><circle cx="457.5" cy="122.3" r="4.08" fill="url(#gG)"/><circle cx="456.2" cy="157.5" r="2.45" fill="url(#gC)"/><circle cx="456.2" cy="223.5" r="2.45" fill="url(#gC)"/><circle cx="421.9" cy="43.2" r="2.46" fill="url(#gC)"/><circle cx="421.9" cy="109.5" r="2.46" fill="url(#gC)"/><circle cx="421.9" cy="146.1" r="4.10" fill="url(#gG)"/><circle cx="420.6" cy="191.5" r="2.68" fill="url(#gL)"/><circle cx="421.9" cy="236.4" r="4.10" fill="url(#gG)"/><circle cx="464.3" cy="19.2" r="2.46" fill="url(#gC)"/><circle cx="464.3" cy="55.6" r="4.10" fill="url(#gR)"/><circle cx="464.3" cy="98.2" r="4.10" fill="url(#gR)"/><circle cx="464.3" cy="133.7" r="2.46" fill="url(#gC)"/><circle cx="464.3" cy="169.4" r="4.10" fill="url(#gR)"/><circle cx="464.3" cy="212.2" r="4.10" fill="url(#gR)"/><circle cx="464.3" cy="248.1" r="2.46" fill="url(#gC)"/><circle cx="387.2" cy="18.5" r="2.47" fill="url(#gC)"/><circle cx="387.2" cy="55.0" r="4.11" fill="url(#gR)"/><circle cx="387.2" cy="97.7" r="4.11" fill="url(#gR)"/><circle cx="387.2" cy="133.3" r="2.47" fill="url(#gC)"/><circle cx="387.2" cy="169.2" r="4.11" fill="url(#gR)"/><circle cx="387.2" cy="212.1" r="4.11" fill="url(#gR)"/><circle cx="387.2" cy="248.2" r="2.47" fill="url(#gC)"/><circle cx="429.8" cy="31.9" r="4.12" fill="url(#gG)"/><circle cx="431.1" cy="76.7" r="2.70" fill="url(#gL)"/><circle cx="431.1" cy="122.0" r="4.12" fill="url(#gG)"/><circle cx="429.8" cy="157.7" r="2.47" fill="url(#gC)"/><circle cx="429.8" cy="224.4" r="2.47" fill="url(#gC)"/><circle cx="472.4" cy="42.8" r="2.47" fill="url(#gC)"/><circle cx="472.4" cy="109.5" r="2.47" fill="url(#gC)"/><circle cx="472.4" cy="146.4" r="4.12" fill="url(#gG)"/><circle cx="471.1" cy="192.2" r="2.70" fill="url(#gL)"/><circle cx="472.4" cy="237.3" r="4.12" fill="url(#gG)"/><circle cx="394.9" cy="42.1" r="2.48" fill="url(#gC)"/><circle cx="394.9" cy="109.1" r="2.48" fill="url(#gC)"/><circle cx="394.9" cy="146.1" r="4.14" fill="url(#gG)"/><circle cx="393.6" cy="192.1" r="2.71" fill="url(#gL)"/><circle cx="394.9" cy="237.3" r="4.14" fill="url(#gG)"/><circle cx="437.7" cy="17.9" r="2.49" fill="url(#gC)"/><circle cx="437.7" cy="54.7" r="4.14" fill="url(#gR)"/><circle cx="437.7" cy="97.7" r="4.14" fill="url(#gR)"/><circle cx="437.7" cy="133.6" r="2.49" fill="url(#gC)"/><circle cx="437.7" cy="169.7" r="4.14" fill="url(#gR)"/><circle cx="437.7" cy="212.9" r="4.14" fill="url(#gR)"/><circle cx="437.7" cy="249.2" r="2.49" fill="url(#gC)"/><circle cx="480.7" cy="31.4" r="4.15" fill="url(#gG)"/><circle cx="482.0" cy="76.5" r="2.72" fill="url(#gL)"/><circle cx="482.0" cy="122.2" r="4.15" fill="url(#gG)"/><circle cx="480.7" cy="158.1" r="2.49" fill="url(#gC)"/><circle cx="480.7" cy="225.2" r="2.49" fill="url(#gC)"/><circle cx="402.7" cy="30.7" r="4.16" fill="url(#gG)"/><circle cx="404.0" cy="76.0" r="2.73" fill="url(#gL)"/><circle cx="404.0" cy="121.8" r="4.16" fill="url(#gG)"/><circle cx="402.7" cy="157.8" r="2.50" fill="url(#gC)"/><circle cx="402.7" cy="225.2" r="2.50" fill="url(#gC)"/><circle cx="445.8" cy="41.7" r="2.50" fill="url(#gC)"/><circle cx="445.8" cy="109.2" r="2.50" fill="url(#gC)"/><circle cx="445.8" cy="146.4" r="4.17" fill="url(#gG)"/><circle cx="444.5" cy="192.7" r="2.73" fill="url(#gL)"/><circle cx="445.8" cy="238.3" r="4.17" fill="url(#gG)"/><circle cx="489.0" cy="17.3" r="2.50" fill="url(#gC)"/><circle cx="489.0" cy="54.3" r="4.17" fill="url(#gR)"/><circle cx="489.0" cy="97.7" r="4.17" fill="url(#gR)"/><circle cx="489.0" cy="133.8" r="2.50" fill="url(#gC)"/><circle cx="489.0" cy="170.1" r="4.17" fill="url(#gR)"/><circle cx="489.0" cy="213.7" r="4.17" fill="url(#gR)"/><circle cx="489.0" cy="250.3" r="2.50" fill="url(#gC)"/><circle cx="410.6" cy="16.5" r="2.51" fill="url(#gC)"/><circle cx="410.6" cy="53.7" r="4.19" fill="url(#gR)"/><circle cx="410.6" cy="97.2" r="4.19" fill="url(#gR)"/><circle cx="410.6" cy="133.4" r="2.51" fill="url(#gC)"/><circle cx="410.6" cy="169.9" r="4.19" fill="url(#gR)"/><circle cx="410.6" cy="213.7" r="4.19" fill="url(#gR)"/><circle cx="410.6" cy="250.4" r="2.51" fill="url(#gC)"/><circle cx="454.0" cy="30.1" r="4.19" fill="url(#gG)"/><circle cx="455.3" cy="75.8" r="2.75" fill="url(#gL)"/><circle cx="455.3" cy="121.9" r="4.19" fill="url(#gG)"/><circle cx="454.0" cy="158.2" r="2.52" fill="url(#gC)"/><circle cx="454.0" cy="226.1" r="2.52" fill="url(#gC)"/><circle cx="418.6" cy="40.5" r="2.53" fill="url(#gC)"/><circle cx="418.6" cy="108.8" r="2.53" fill="url(#gC)"/><circle cx="418.6" cy="146.4" r="4.21" fill="url(#gG)"/><circle cx="417.3" cy="193.2" r="2.76" fill="url(#gL)"/><circle cx="418.6" cy="239.4" r="4.21" fill="url(#gG)"/><circle cx="462.3" cy="15.9" r="2.53" fill="url(#gC)"/><circle cx="462.3" cy="53.3" r="4.22" fill="url(#gR)"/><circle cx="462.3" cy="97.2" r="4.22" fill="url(#gR)"/><circle cx="462.3" cy="133.7" r="2.53" fill="url(#gC)"/><circle cx="462.3" cy="170.4" r="4.22" fill="url(#gR)"/><circle cx="462.3" cy="214.5" r="4.22" fill="url(#gR)"/><circle cx="462.3" cy="251.5" r="2.53" fill="url(#gC)"/><circle cx="382.9" cy="15.1" r="2.54" fill="url(#gC)"/><circle cx="382.9" cy="52.7" r="4.24" fill="url(#gR)"/><circle cx="382.9" cy="96.7" r="4.24" fill="url(#gR)"/><circle cx="382.9" cy="133.3" r="2.54" fill="url(#gC)"/><circle cx="382.9" cy="170.2" r="4.24" fill="url(#gR)"/><circle cx="382.9" cy="214.4" r="4.24" fill="url(#gR)"/><circle cx="382.9" cy="251.5" r="2.54" fill="url(#gC)"/><circle cx="426.7" cy="28.9" r="4.24" fill="url(#gG)"/><circle cx="428.0" cy="75.0" r="2.78" fill="url(#gL)"/><circle cx="428.0" cy="121.7" r="4.24" fill="url(#gG)"/><circle cx="426.7" cy="158.4" r="2.54" fill="url(#gC)"/><circle cx="426.7" cy="227.0" r="2.54" fill="url(#gC)"/><circle cx="470.6" cy="40.1" r="2.55" fill="url(#gC)"/><circle cx="470.6" cy="108.8" r="2.55" fill="url(#gC)"/><circle cx="470.6" cy="146.8" r="4.25" fill="url(#gG)"/><circle cx="469.3" cy="193.9" r="2.78" fill="url(#gL)"/><circle cx="470.6" cy="240.4" r="4.25" fill="url(#gG)"/><circle cx="390.8" cy="39.4" r="2.56" fill="url(#gC)"/><circle cx="390.8" cy="108.4" r="2.56" fill="url(#gC)"/><circle cx="390.8" cy="146.4" r="4.26" fill="url(#gG)"/><circle cx="389.5" cy="193.8" r="2.79" fill="url(#gL)"/><circle cx="390.8" cy="240.4" r="4.26" fill="url(#gG)"/><circle cx="434.9" cy="14.5" r="2.56" fill="url(#gC)"/><circle cx="434.9" cy="52.3" r="4.27" fill="url(#gR)"/><circle cx="434.9" cy="96.6" r="4.27" fill="url(#gR)"/><circle cx="434.9" cy="133.6" r="2.56" fill="url(#gC)"/><circle cx="434.9" cy="170.7" r="4.27" fill="url(#gR)"/><circle cx="434.9" cy="215.3" r="4.27" fill="url(#gR)"/><circle cx="434.9" cy="252.7" r="2.56" fill="url(#gC)"/><circle cx="479.1" cy="28.3" r="4.27" fill="url(#gG)"/><circle cx="480.4" cy="74.8" r="2.80" fill="url(#gL)"/><circle cx="480.4" cy="121.8" r="4.27" fill="url(#gG)"/><circle cx="479.1" cy="158.8" r="2.56" fill="url(#gC)"/><circle cx="479.1" cy="228.0" r="2.56" fill="url(#gC)"/><circle cx="398.8" cy="27.6" r="4.29" fill="url(#gG)"/><circle cx="400.1" cy="74.3" r="2.81" fill="url(#gL)"/><circle cx="400.1" cy="121.4" r="4.29" fill="url(#gG)"/><circle cx="398.8" cy="158.5" r="2.57" fill="url(#gC)"/><circle cx="398.8" cy="227.9" r="2.57" fill="url(#gC)"/><circle cx="443.2" cy="38.9" r="2.58" fill="url(#gC)"/><circle cx="443.2" cy="108.4" r="2.58" fill="url(#gC)"/><circle cx="443.2" cy="146.8" r="4.29" fill="url(#gG)"/><circle cx="441.9" cy="194.5" r="2.81" fill="url(#gL)"/><circle cx="443.2" cy="241.5" r="4.29" fill="url(#gG)"/><circle cx="487.7" cy="13.8" r="2.58" fill="url(#gC)"/><circle cx="487.7" cy="52.0" r="4.30" fill="url(#gR)"/><circle cx="487.7" cy="96.6" r="4.30" fill="url(#gR)"/><circle cx="487.7" cy="133.8" r="2.58" fill="url(#gC)"/><circle cx="487.7" cy="171.2" r="4.30" fill="url(#gR)"/><circle cx="487.7" cy="216.1" r="4.30" fill="url(#gR)"/><circle cx="487.7" cy="253.8" r="2.58" fill="url(#gC)"/><circle cx="406.9" cy="13.0" r="2.59" fill="url(#gC)"/><circle cx="406.9" cy="51.3" r="4.31" fill="url(#gR)"/><circle cx="406.9" cy="96.1" r="4.31" fill="url(#gR)"/><circle cx="406.9" cy="133.4" r="2.59" fill="url(#gC)"/><circle cx="406.9" cy="171.0" r="4.31" fill="url(#gR)"/><circle cx="406.9" cy="216.1" r="4.31" fill="url(#gR)"/><circle cx="406.9" cy="253.9" r="2.59" fill="url(#gC)"/><circle cx="451.6" cy="27.0" r="4.32" fill="url(#gG)"/><circle cx="452.9" cy="74.1" r="2.83" fill="url(#gL)"/><circle cx="452.9" cy="121.6" r="4.32" fill="url(#gG)"/><circle cx="451.6" cy="159.0" r="2.59" fill="url(#gC)"/><circle cx="451.6" cy="228.9" r="2.59" fill="url(#gC)"/><circle cx="415.2" cy="37.7" r="2.61" fill="url(#gC)"/><circle cx="415.2" cy="108.0" r="2.61" fill="url(#gC)"/><circle cx="415.2" cy="146.8" r="4.34" fill="url(#gG)"/><circle cx="413.9" cy="195.0" r="2.85" fill="url(#gL)"/><circle cx="415.2" cy="242.5" r="4.34" fill="url(#gG)"/><circle cx="460.1" cy="12.3" r="2.61" fill="url(#gC)"/><circle cx="460.1" cy="50.9" r="4.35" fill="url(#gR)"/><circle cx="460.1" cy="96.1" r="4.35" fill="url(#gR)"/><circle cx="460.1" cy="133.7" r="2.61" fill="url(#gC)"/><circle cx="460.1" cy="171.5" r="4.35" fill="url(#gR)"/><circle cx="460.1" cy="216.9" r="4.35" fill="url(#gR)"/><circle cx="460.1" cy="255.0" r="2.61" fill="url(#gC)"/><circle cx="378.3" cy="11.5" r="2.62" fill="url(#gC)"/><circle cx="378.3" cy="50.2" r="4.36" fill="url(#gR)"/><circle cx="378.3" cy="95.6" r="4.36" fill="url(#gR)"/><circle cx="378.3" cy="133.3" r="2.62" fill="url(#gC)"/><circle cx="378.3" cy="171.3" r="4.36" fill="url(#gR)"/><circle cx="378.3" cy="216.9" r="4.36" fill="url(#gR)"/><circle cx="378.3" cy="255.1" r="2.62" fill="url(#gC)"/><circle cx="423.5" cy="25.7" r="4.37" fill="url(#gG)"/><circle cx="424.8" cy="73.3" r="2.86" fill="url(#gL)"/><circle cx="424.8" cy="121.3" r="4.37" fill="url(#gG)"/><circle cx="423.5" cy="159.1" r="2.62" fill="url(#gC)"/><circle cx="423.5" cy="229.9" r="2.62" fill="url(#gC)"/><circle cx="386.5" cy="36.5" r="2.63" fill="url(#gC)"/><circle cx="386.5" cy="107.6" r="2.63" fill="url(#gC)"/><circle cx="386.5" cy="146.8" r="4.39" fill="url(#gG)"/><circle cx="385.2" cy="195.6" r="2.88" fill="url(#gL)"/><circle cx="386.5" cy="243.7" r="4.39" fill="url(#gG)"/><circle cx="431.9" cy="10.8" r="2.64" fill="url(#gC)"/><circle cx="431.9" cy="49.8" r="4.40" fill="url(#gR)"/><circle cx="431.9" cy="95.5" r="4.40" fill="url(#gR)"/><circle cx="431.9" cy="133.6" r="2.64" fill="url(#gC)"/><circle cx="431.9" cy="171.8" r="4.40" fill="url(#gR)"/><circle cx="431.9" cy="217.7" r="4.40" fill="url(#gR)"/><circle cx="431.9" cy="256.3" r="2.64" fill="url(#gC)"/><circle cx="394.7" cy="24.3" r="4.42" fill="url(#gG)"/><circle cx="396.0" cy="72.5" r="2.90" fill="url(#gL)"/><circle cx="396.0" cy="121.1" r="4.42" fill="url(#gG)"/><circle cx="394.7" cy="159.3" r="2.65" fill="url(#gC)"/><circle cx="394.7" cy="230.8" r="2.65" fill="url(#gC)"/><circle cx="403.0" cy="9.3" r="2.67" fill="url(#gC)"/><circle cx="403.0" cy="48.8" r="4.45" fill="url(#gR)"/><circle cx="403.0" cy="94.9" r="4.45" fill="url(#gR)"/><circle cx="403.0" cy="133.4" r="2.67" fill="url(#gC)"/><circle cx="403.0" cy="172.2" r="4.45" fill="url(#gR)"/><circle cx="403.0" cy="218.6" r="4.45" fill="url(#gR)"/><circle cx="403.0" cy="257.6" r="2.67" fill="url(#gC)"/><circle cx="373.5" cy="7.7" r="2.70" fill="url(#gC)"/><circle cx="373.5" cy="47.6" r="4.50" fill="url(#gR)"/><circle cx="373.5" cy="94.4" r="4.50" fill="url(#gR)"/><circle cx="373.5" cy="133.3" r="2.70" fill="url(#gC)"/><circle cx="373.5" cy="172.5" r="4.50" fill="url(#gR)"/><circle cx="373.5" cy="219.5" r="4.50" fill="url(#gR)"/><circle cx="373.5" cy="258.9" r="2.70" fill="url(#gC)"/></g></g>
<text x="4.5" y="19" font-size="18" fill="#111">(a)</text><text x="3.5" y="297" font-size="18" fill="#111">(b)</text><g font-size="15" fill="#111"><text x="501.6" y="135.6">C</text><text x="501.2" y="149.4">Ti</text><text x="497" y="174.2">Mo</text><text x="501.5" y="195.2">Al</text></g><g font-family="'Liberation Serif',serif" font-size="18.6" fill="#111" text-anchor="middle"><text x="132" y="278">I</text><text x="281" y="278">II</text><text x="432.5" y="278">III</text></g>
<g id="graph"><rect x="70.5" y="293.1" width="420.0" height="282.5" fill="none" stroke="#1a1a1a" stroke-width="1.3"/><line x1="70.5" y1="518.9" x2="490.5" y2="518.9" stroke="#1c1c1c" stroke-width="1"/><path d="M70.50 575.6v6M70.50 293.1v6M96.75 575.6v3.5M96.75 293.1v3.5M123.00 575.6v3.5M123.00 293.1v3.5M149.25 575.6v3.5M149.25 293.1v3.5M175.50 575.6v6M175.50 293.1v6M201.75 575.6v3.5M201.75 293.1v3.5M228.00 575.6v3.5M228.00 293.1v3.5M254.25 575.6v3.5M254.25 293.1v3.5M280.50 575.6v6M280.50 293.1v6M306.75 575.6v3.5M306.75 293.1v3.5M333.00 575.6v3.5M333.00 293.1v3.5M359.25 575.6v3.5M359.25 293.1v3.5M385.50 575.6v6M385.50 293.1v6M411.75 575.6v3.5M411.75 293.1v3.5M438.00 575.6v3.5M438.00 293.1v3.5M464.25 575.6v3.5M464.25 293.1v3.5M490.50 575.6v6M490.50 293.1v6M70.5 575.49h-3.5M490.5 575.49h-3.5M70.5 556.66h-6M490.5 556.66h-6M70.5 537.83h-3.5M490.5 537.83h-3.5M70.5 519.00h-6M490.5 519.00h-6M70.5 500.17h-3.5M490.5 500.17h-3.5M70.5 481.34h-6M490.5 481.34h-6M70.5 462.51h-3.5M490.5 462.51h-3.5M70.5 443.68h-6M490.5 443.68h-6M70.5 424.85h-3.5M490.5 424.85h-3.5M70.5 406.02h-6M490.5 406.02h-6M70.5 387.19h-3.5M490.5 387.19h-3.5M70.5 368.36h-6M490.5 368.36h-6M70.5 349.53h-3.5M490.5 349.53h-3.5M70.5 330.70h-6M490.5 330.70h-6M70.5 311.87h-3.5M490.5 311.87h-3.5M70.5 293.04h-6M490.5 293.04h-6" stroke="#1a1a1a" stroke-width="1.2" fill="none"/><g font-size="14.8" fill="#111" text-anchor="end"><text x="59.5" y="560.8">-20</text><text x="59.5" y="523.1">0</text><text x="59.5" y="485.4">20</text><text x="59.5" y="447.8">40</text><text x="59.5" y="410.1">60</text><text x="59.5" y="372.5">80</text><text x="59.5" y="334.8">100</text><text x="59.5" y="297.1">120</text></g><g font-size="15.1" fill="#111" text-anchor="middle"><text x="70.5" y="598.2">0.00</text><text x="175.5" y="598.2">0.25</text><text x="280.5" y="598.2">0.50</text><text x="385.5" y="598.2">0.75</text><text x="490.5" y="598.2">1.00</text></g><g font-size="14" fill="#111" text-anchor="middle"><text x="70.0" y="612" font-style="italic" font-size="13.9">disordered</text><text x="69.5" y="628.6">(SQS)</text><text x="491.0" y="612" font-style="italic" font-size="13.9">ordered</text><text x="487.2" y="628.6">(type A)</text></g><text x="280" y="628" font-size="18" fill="#111" text-anchor="middle">Degree of order</text><text id="ylab" transform="translate(18.6,438) rotate(-90)" font-size="17.6" fill="#111" text-anchor="middle">ΔH<tspan font-size="11" dy="7">cp</tspan><tspan dy="-7"> and ΔG</tspan><tspan font-size="11" dy="7">cp</tspan><tspan dy="-7"> (meV/atom)</tspan></text><polyline points="70.5,411.8 254.2,507.0 333.0,520.0 411.8,538.0 490.7,553.6" fill="none" stroke="#484884" stroke-width="1.05" stroke-dasharray="5.2 3.3"/><polyline points="70.5,490.0 254.2,543.7 333.0,548.6 411.8,552.0 490.7,550.8" fill="none" stroke="#c04a54" stroke-width="1.05" stroke-dasharray="5.2 3.3"/><polyline points="70.5,315.0 254.2,452.3 333.0,485.2 411.8,520.5 490.7,553.6" fill="none" stroke="#3a3a92" stroke-width="1.1"/><polyline points="70.5,385.0 254.2,484.6 333.0,509.2 411.8,532.5 490.7,550.8" fill="none" stroke="#c03a3a" stroke-width="1.1"/><rect x="66.2" y="310.7" width="8.6" height="8.6" fill="none" stroke="#1414c8" stroke-width="1.5"/><rect x="249.9" y="448.0" width="8.6" height="8.6" fill="none" stroke="#1414c8" stroke-width="1.5"/><rect x="328.7" y="480.9" width="8.6" height="8.6" fill="none" stroke="#1414c8" stroke-width="1.5"/><rect x="407.4" y="516.2" width="8.6" height="8.6" fill="none" stroke="#1414c8" stroke-width="1.5"/><rect x="486.4" y="549.3" width="8.6" height="8.6" fill="none" stroke="#1414c8" stroke-width="1.5"/><circle cx="70.5" cy="385.0" r="4.5" fill="none" stroke="#d01424" stroke-width="1.4"/><circle cx="254.2" cy="484.6" r="4.5" fill="none" stroke="#d01424" stroke-width="1.4"/><circle cx="333.0" cy="509.2" r="4.5" fill="none" stroke="#d01424" stroke-width="1.4"/><circle cx="411.8" cy="532.5" r="4.5" fill="none" stroke="#d01424" stroke-width="1.4"/><circle cx="490.7" cy="550.8" r="4.5" fill="none" stroke="#d01424" stroke-width="1.4"/><rect x="65.4" y="406.6" width="10.2" height="10.2" fill="#0a14f0"/><circle cx="70.5" cy="490.0" r="5.15" fill="#f00a1e"/><g font-family="'Liberation Serif',serif" font-size="18.3" fill="#111" text-anchor="middle"><rect x="325.5" y="520.5" width="16.5" height="14.5" fill="#fff"/><text x="80.4" y="386.9">I</text><text x="333.8" y="533.8">II</text><text x="471.2" y="566">III</text></g><rect x="266.5" y="311.5" width="201.5" height="86.5" fill="#fff" stroke="#555" stroke-width="1.1"/><g font-size="15.4" fill="#111" text-anchor="middle"><text x="292.5" y="328"><tspan font-size="12.6">Δ</tspan>H</text><text x="292" y="346.5">(0 K)</text><text x="343" y="328"><tspan font-size="12.6">Δ</tspan>G</text><text x="345.5" y="346.5">(1873 K)</text></g><line x1="275" y1="360.5" x2="309.5" y2="360.5" stroke="#3a3a92" stroke-width="1.1"/><rect x="287.7" y="356.2" width="8.6" height="8.6" fill="none" stroke="#1414c8" stroke-width="1.5"/><rect x="336.1" y="355.4" width="10.2" height="10.2" fill="#0a14f0"/><line x1="275" y1="383.8" x2="309.5" y2="383.8" stroke="#c03a3a" stroke-width="1.1"/><circle cx="292" cy="383.8" r="4.5" fill="none" stroke="#d01424" stroke-width="1.4"/><circle cx="341.2" cy="383.8" r="5.15" fill="#f00a1e"/><g font-size="15.4" fill="#111"><text x="390" y="365">Mo<tspan font-size="9" dy="6.6">2</tspan><tspan dy="-6.6">TiAlC</tspan><tspan font-size="9" dy="6.6">2</tspan></text><text x="390" y="388">Mo<tspan font-size="9" dy="6.6">2</tspan><tspan dy="-6.6">Ti</tspan><tspan font-size="9" dy="6.6">2</tspan><tspan dy="-6.6">AlC</tspan><tspan font-size="9" dy="6.6">3</tspan></text></g></g>
</svg>
</body></html>
